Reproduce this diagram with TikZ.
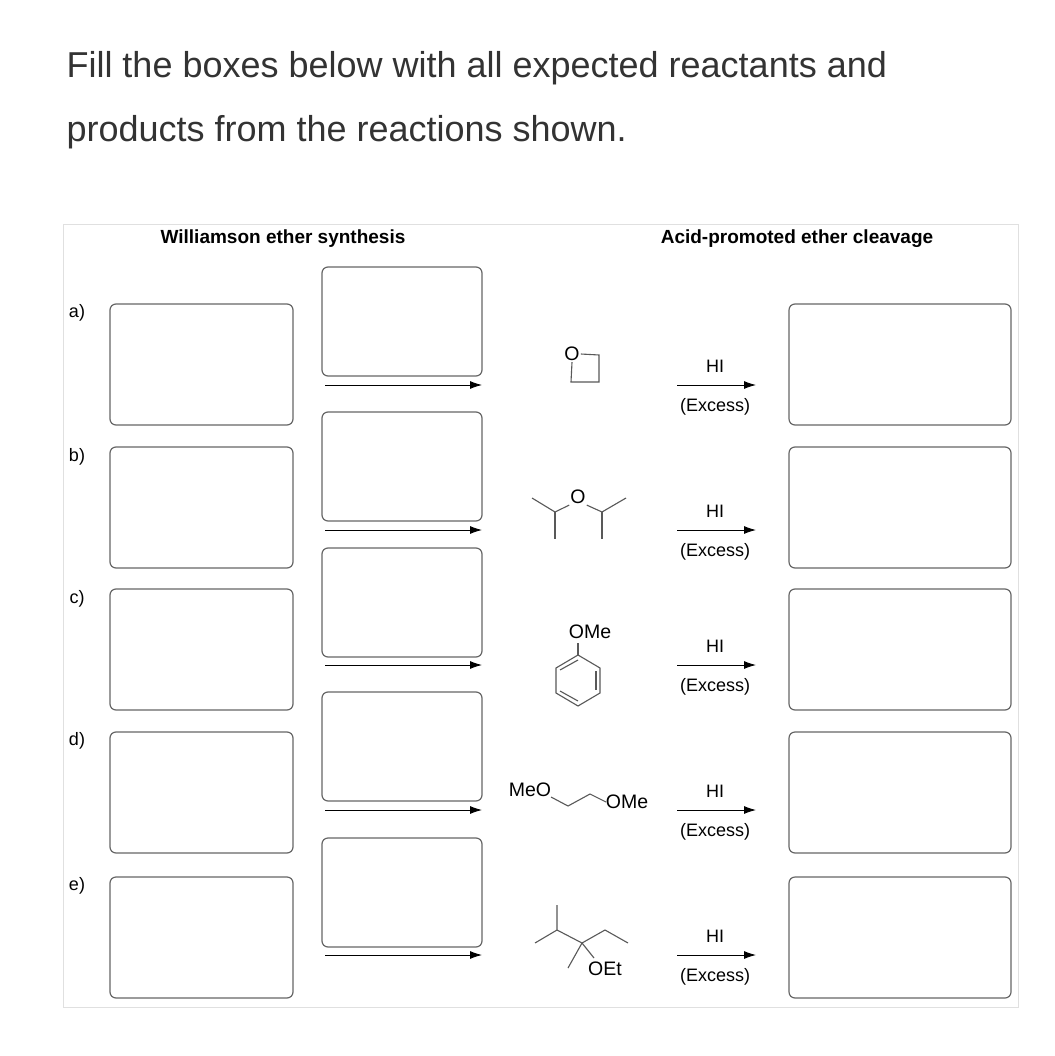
\documentclass[tikz,border=0pt]{standalone}
\usepackage{fontspec}
\setmainfont{Liberation Sans}
\usetikzlibrary{arrows.meta}
\tikzstyle{answerbox}=[
        draw=black!60,
        line width=1.2pt,
        rounded corners=6pt
]
\tikzstyle{bond}=[
        draw=black!65,
        line width=1.1pt
]
\tikzstyle{rxn}=[
        draw=black,
        line width=0.9pt,
        -{Latex[length=12pt,width=8pt]}
]
\tikzstyle{atom}=[
        font=\fontsize{19.5}{19.5}\selectfont,
        inner sep=1pt
]
\begin{document}
\begin{tikzpicture}[x=1pt,y=-1pt]
                        \useasboundingbox[fill=white] (0,0) rectangle (1054,1056);
                        \node[anchor=base west,font=\fontsize{36}{36}\selectfont,text=black!80] (t1) at (63,78) {Fill the boxes below with all expected reactants and};
                        \node[anchor=base west,font=\fontsize{36}{36}\selectfont,text=black!80] (t2) at (63,142) {products from the reactions shown.};

                        \draw[black!12,line width=1pt] (63,225) rectangle (1018,1007);
                        \node[font=\bfseries\fontsize{19}{19}\selectfont] (h1) at (283,239) {Williamson ether synthesis};
                        \node[font=\bfseries\fontsize{19}{19}\selectfont] (h2) at (797,239) {Acid-promoted ether cleavage};

                        % rows: label y, box top, middle box top, arrow y
                        \foreach \lab/\ly/\bt/\mt/\ay in {a/313/304/267/385, b/457/447/412/530, c/599/589/548/665, d/741/732/692/810, e/886/877/838/955} {
                            \node[font=\fontsize{18}{18}\selectfont] (lab\lab) at (77,\ly) {\lab)};
                            \draw[answerbox] (110,\bt) rectangle (293,\bt+121);
                            \draw[answerbox] (322,\mt) rectangle (482,\mt+109);
                            \draw[answerbox] (789,\bt) rectangle (1011,\bt+121);
                            \coordinate (ws\lab) at (325,\ay);
                            \coordinate (we\lab) at (482,\ay);
                            \draw[rxn] (ws\lab) -- (we\lab);
                            \coordinate (hs\lab) at (677,\ay);
                            \coordinate (he\lab) at (756,\ay);
                            \draw[rxn] (hs\lab) -- (he\lab);
                            \node[font=\fontsize{18}{18}\selectfont] (hi\lab) at (715,\ay-19) {HI};
                            \node[font=\fontsize{18}{18}\selectfont] (ex\lab) at (715,\ay+22) {(Excess)};
                        }

                        % a) oxetane
                        \node[atom] (oa) at (572,354) {O};
                        \draw[bond] (oa.east) -- (599,355) -- (599,382) -- (571,382) -- (oa.south);
                        % b) diisopropyl ether
                        \node[atom] (ob) at (578,497) {O};
                        \draw[bond] (532,498) -- (555,512) -- (ob.south west);
                        \draw[bond] (555,512) -- (555,539);
                        \draw[bond] (ob.south east) -- (602,512) -- (626,498);
                        \draw[bond] (602,512) -- (602,539);
                        % c) anisole
                        \node[atom] (oc) at (590,632) {OMe};
                        \draw[bond] (578,643) -- (578,655);
                        \draw[bond] (578,655) -- (600,668) -- (600,693) -- (578,706) -- (556,693) -- (556,668) -- cycle;
                        \draw[bond] (578,660) -- (560,670);
                        \draw[bond] (596,671) -- (596,690);
                        \draw[bond] (578,701) -- (560,691);
                        % d) dimethoxyethane
                        \node[atom] (od1) at (530,790) {MeO};
                        \node[atom] (od2) at (627,802) {OMe};
                        \draw[bond] (551,797) -- (568,806) -- (590,794) -- (606,802);
                        % e) tertiary ethyl ether
                        \node[atom] (oe) at (605,969) {OEt};
                        \draw[bond] (557,905) -- (557,930) -- (535,943);
                        \draw[bond] (557,930) -- (582,943) -- (605,930) -- (628,943);
                        \draw[bond] (582,943) -- (568,968);
                        \draw[bond] (582,943) -- (594,958);
                    \end{tikzpicture}
\end{document}
